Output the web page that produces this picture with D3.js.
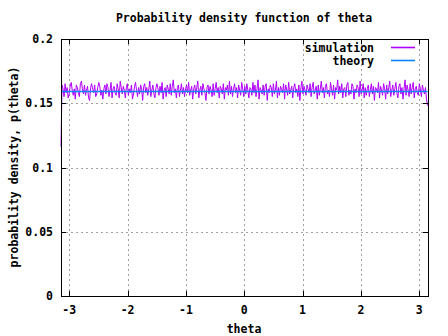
<!DOCTYPE html>
<html><head><meta charset="utf-8">
<script src="https://d3js.org/d3.v7.min.js"></script>
<style>body{margin:0;background:#fff}svg{display:block}text{font-family:"DejaVu Sans Mono",monospace;font-weight:bold;font-size:11.5px;fill:#000}</style>
</head><body><svg id="c" width="448" height="336"></svg>
<script>
const title = "Probability density function of theta";
const xLabel = "theta";
const yLabel = "probability density, p(theta)";
const xTicks = [-3,-2,-1,0,1,2,3];
const yTicks = [0,0.05,0.1,0.15,0.2];
const yTickLabels = ["0","0.05","0.1","0.15","0.2"];
const seriesNames = ["simulation","theory"];
const theoryValue = 0.1592;
// simulation deviations from theory, in thousandths
const simDev = [
-43,5,2,-4,6,-1,3,-5,-2,4,7,1,-3,2,-6,5,3,-1,-4,6,8,2,-2,5,-3,1,4,-5,-7,3,6,2,-1,5,-4,-2,3,7,4,-3,1,-6,2,5,-2,6,3,-4,1,7,-5,2,4,-1,-3,6,2,-5,8,3,
-2,4,1,-5,3,6,-3,2,-1,5,-6,-2,4,7,1,-4,3,-2,5,2,-7,4,6,-1,3,-3,2,8,-4,1,5,-2,-5,3,6,2,-3,4,-1,7,-6,1,3,-4,5,2,-2,6,-3,4,9,-1,2,-5,3,5,-4,1,6,-2,
3,-4,2,5,-1,7,-3,1,4,-6,2,5,-2,3,8,-5,1,4,-3,6,2,-1,-7,3,5,-2,4,1,-4,6,-3,2,7,-1,3,-5,4,2,-2,6,-6,3,1,5,-3,8,-2,4,-4,2,6,-1,3,-5,5,1,-3,7,2,-4,
4,-2,6,1,-5,3,2,-3,7,-1,5,-4,2,9,-6,3,1,-2,5,-3,4,6,-7,2,-1,5,3,-4,6,-2,1,8,-5,3,-3,4,2,-1,6,-6,5,2,-3,7,-2,1,4,-5,3,6,-1,2,-4,5,-7,3,8,-2,4,1,
-3,5,2,-1,6,-4,3,7,-2,1,4,-6,5,-3,2,8,-1,3,-5,4,6,-2,1,-4,7,2,-3,5,-6,3,1,9,-2,4,-1,6,-5,2,3,-4,5,7,-3,1,-2,6,4,-6,2,-1,5,3,-4,8,-2,1,6,-5,3,-3,
2,5,-4,1,6,-2,4,-7,3,2,-1,7,-5,4,1,-3,6,2,-6,5,-2,3,8,-4,1,5,-3,2,7,-1,-5,4,6,-2,3,-6,2,9,-3,5,1,-4,6,-2,3,7,-5,2,4,-1,-3,6,2,-4,5,1,-2,3,-6,-11
];
const simValues = simDev.map(d => theoryValue + d/1000);
const colors = ["#b000ff","#0a84ff"];

const svg = d3.select("#c");
const L=61, R=427.5, T=39, B=296;
const x = d3.scaleLinear().domain([-Math.PI, Math.PI]).range([L, R]);
const y = d3.scaleLinear().domain([0, 0.2]).range([B, T]);
const thetas = simValues.map((v,i) => -Math.PI + i*(2*Math.PI)/(simValues.length-1));

// grid
const g = svg.append("g").attr("shape-rendering","crispEdges");
xTicks.forEach(t => g.append("line").attr("x1",Math.round(x(t))+0.5).attr("x2",Math.round(x(t))+0.5).attr("y1",T).attr("y2",B)
  .attr("stroke","#a0a0a0").attr("stroke-dasharray","2,3"));
yTicks.slice(1,-1).forEach(t => g.append("line").attr("y1",Math.round(y(t))+0.5).attr("y2",Math.round(y(t))+0.5).attr("x1",L).attr("x2",R)
  .attr("stroke","#a0a0a0").attr("stroke-dasharray","2,3"));

// data
const line = d3.line().x((d,i)=>x(thetas[i])).y(d=>y(d));
svg.append("path").datum(simValues).attr("d",line).attr("fill","none").attr("stroke",colors[0]).attr("stroke-width",1);
svg.append("path").datum([theoryValue,theoryValue]).attr("d",d3.line().x((d,i)=>x(i? Math.PI:-Math.PI)).y(d=>y(d)))
  .attr("fill","none").attr("stroke",colors[1]).attr("stroke-width",1.6);

// frame & ticks
const f = svg.append("g").attr("shape-rendering","crispEdges").attr("stroke","#000");
f.append("rect").attr("x",L+0.5).attr("y",T+0.5).attr("width",R-L).attr("height",B-T).attr("fill","none");
xTicks.forEach(t => { const px=Math.round(x(t))+0.5;
  f.append("line").attr("x1",px).attr("x2",px).attr("y1",B).attr("y2",B-5);
  f.append("line").attr("x1",px).attr("x2",px).attr("y1",T).attr("y2",T+5); });
yTicks.forEach(t => { const py=Math.round(y(t))+0.5;
  f.append("line").attr("y1",py).attr("y2",py).attr("x1",L).attr("x2",L+5);
  f.append("line").attr("y1",py).attr("y2",py).attr("x1",R).attr("x2",R-5); });

// tick labels
xTicks.forEach(t => svg.append("text").attr("x",x(t)).attr("y",314).attr("text-anchor","middle").text(t<0?"-"+(-t):t));
yTicks.forEach((t,i) => svg.append("text").attr("x",53).attr("y",y(t)+4).attr("text-anchor","end").text(yTickLabels[i]));

// titles
svg.append("text").attr("x",244).attr("y",22).attr("text-anchor","middle").text(title);
svg.append("text").attr("x",244).attr("y",333).attr("text-anchor","middle").text(xLabel);
svg.append("text").attr("transform","translate(18,167) rotate(-90)").attr("text-anchor","middle").text(yLabel);

// legend
seriesNames.forEach((n,i) => {
  const ly = 47.5 + i*13;
  svg.append("text").attr("x",374).attr("y",ly+4).attr("text-anchor","end").text(n);
  svg.append("line").attr("x1",391).attr("x2",415).attr("y1",ly).attr("y2",ly).attr("stroke",colors[i]).attr("stroke-width",1.6);
});
</script></body></html>
